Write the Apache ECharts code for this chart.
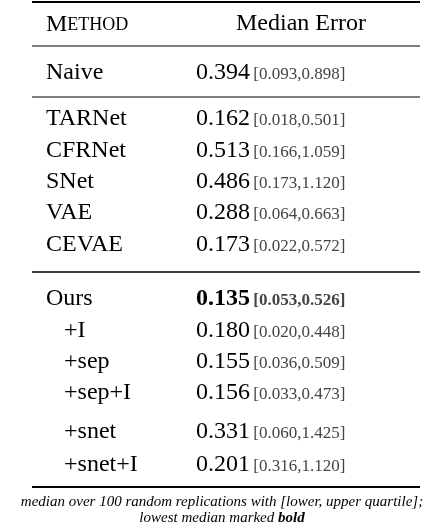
<!DOCTYPE html>
<html>
<head>
<meta charset="utf-8">
<script src="https://cdn.jsdelivr.net/npm/echarts@6/dist/echarts.min.js"></script>
<style>html,body{margin:0;padding:0;background:#fff}#main{width:444px;height:526px}</style>
</head>
<body>
<div id="main"></div>
<script>
// table data
var methods = ['Naive', 'TARNet', 'CFRNet', 'SNet', 'VAE', 'CEVAE', 'Ours', '+I', '+sep', '+sep+I', '+snet', '+snet+I'];
var medians = ['0.394', '0.162', '0.513', '0.486', '0.288', '0.173', '0.135', '0.180', '0.155', '0.156', '0.331', '0.201'];
var lower = ['0.093', '0.018', '0.166', '0.173', '0.064', '0.022', '0.053', '0.020', '0.036', '0.033', '0.060', '0.316'];
var upper = ['0.898', '0.501', '1.059', '1.120', '0.663', '0.572', '0.526', '0.448', '0.509', '0.473', '1.425', '1.120'];
var subRow = [false, false, false, false, false, false, false, true, true, true, true, true];
var bestIndex = 6;

var chart = echarts.init(document.getElementById('main'));
var font = '"Liberation Serif", "DejaVu Serif", serif';
var rowY = [73, 119, 151, 182, 213, 245, 299, 331, 362, 393, 432, 465];
var els = [];

function rule(y, w) {
  els.push({ type: 'line', shape: { x1: 32, y1: y, x2: 420, y2: y }, style: { stroke: '#000', lineWidth: w } });
}
rule(2, 2); rule(46, 1); rule(97, 1); rule(272, 1.5); rule(487, 2);

els.push({ type: 'text', left: 46, top: 13, style: {
  text: '{a|M}{b|ETHOD}',
  rich: { a: { fontSize: 24, fontFamily: font }, b: { fontSize: 18, fontFamily: font } } } });
els.push({ type: 'text', left: 236, top: 12, style: { text: 'Median Error', font: '24px ' + font, fill: '#000' } });

methods.forEach(function (m, i) {
  var y = rowY[i] - 12;
  els.push({ type: 'text', left: subRow[i] ? 64 : 46, top: y, style: { text: m, font: '24px ' + font, fill: '#000' } });
  var bold = i === bestIndex;
  els.push({ type: 'text', left: 196, top: y, style: {
    text: '{v|' + medians[i] + '} {b|[' + lower[i] + ',' + upper[i] + ']}',
    rich: {
      v: { fontSize: 24, fontFamily: font, fontWeight: bold ? 'bold' : 'normal', fill: '#000' },
      b: { fontSize: 17, fontFamily: font, fontWeight: bold ? 'bold' : 'normal', fill: '#444', padding: [3, 0, 0, 0] }
    } } });
});

els.push({ type: 'text', left: 'center', top: 495, style: {
  text: 'median over 100 random replications with [lower, upper quartile];', font: 'italic 15px ' + font, fill: '#000' } });
els.push({ type: 'text', left: 'center', top: 511, style: {
  text: '{n|lowest median marked }{b|bold}',
  rich: { n: { fontSize: 15, fontStyle: 'italic', fontFamily: font }, b: { fontSize: 15, fontStyle: 'italic', fontWeight: 'bold', fontFamily: font } } } });

chart.setOption({ backgroundColor: '#fff', graphic: els });
</script>
</body>
</html>
